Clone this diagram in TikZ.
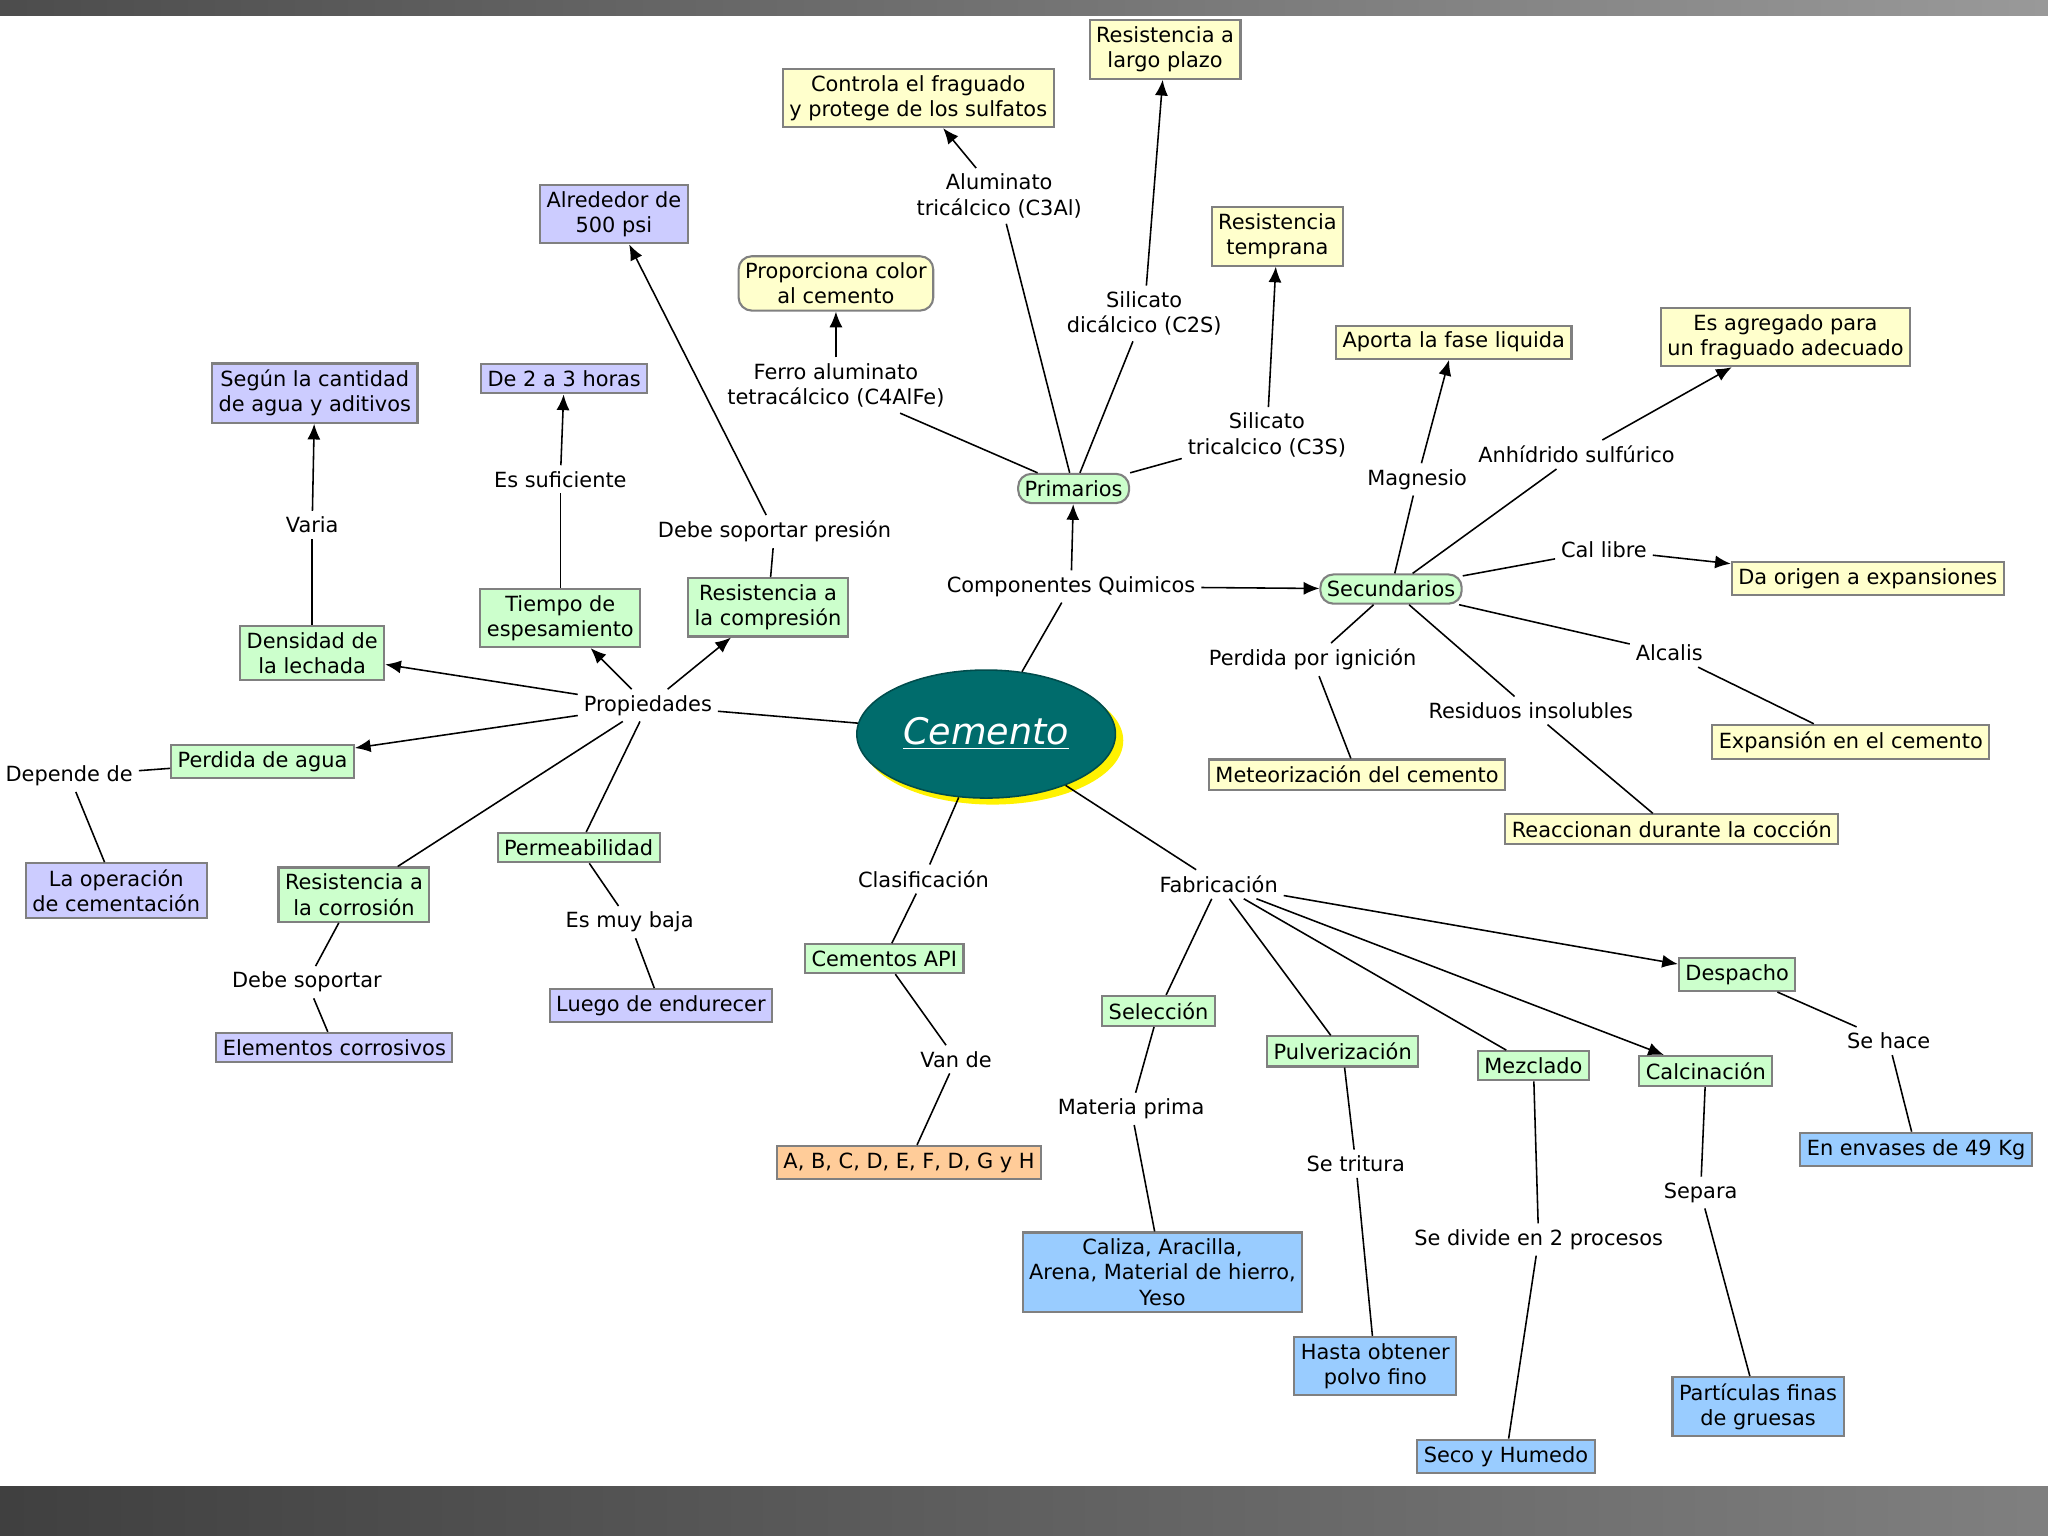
\documentclass[tikz,border=0pt]{standalone}
\usepackage{fontspec}
\setmainfont{DejaVu Sans}
\usetikzlibrary{arrows.meta,shapes.geometric}
\definecolor{gf}{HTML}{CCFFCC}\definecolor{pf}{HTML}{CCCCFF}\definecolor{yf}{HTML}{FFFFCC}
\definecolor{bf}{HTML}{99CCFF}\definecolor{of}{HTML}{FFCC99}\definecolor{bd}{HTML}{808080}
\begin{document}
\begin{tikzpicture}[x=0.5pt,y=-0.5pt,font=\fontsize{8}{9.6}\selectfont,
 box/.style={draw=bd,line width=0.8pt,align=center,inner sep=2.5pt},
 g/.style={box,fill=gf}, p/.style={box,fill=pf}, yb/.style={box,fill=yf},
 bl/.style={box,fill=bf}, o/.style={box,fill=of},
 gr/.style={box,fill=gf,rounded corners=5pt},
 yr/.style={box,fill=yf,rounded corners=5pt},
 l/.style={fill=white,align=center,inner sep=2pt},
 a/.style={-{Latex[length=6pt,width=5pt]}}, every path/.style={line width=0.6pt}]
\useasboundingbox (0,0) rectangle (1568,1176);
\shade[left color=black!70,right color=black!40] (0,0) rectangle (1568,12);
\shade[left color=black!75,right color=black!50] (0,1138) rectangle (1568,1176);
% center
\fill[yellow] (760,567) ellipse (100 and 49);
\node[ellipse,fill=teal!85!black,draw=teal!60!black,minimum width=99pt,minimum height=49pt,inner sep=0pt,text=white,font=\fontsize{14}{16}\selectfont\itshape] (cem) at (755,562) {\underline{Cemento}};
\node[l] (comp) at (820,449) {Componentes Quimicos};
\node[gr] (prim) at (822,374) {Primarios};
\node[gr] (sec) at (1065,451) {Secundarios};
\node[l] (ferro) at (640,295) {Ferro aluminato\\tetracálcico (C4AlFe)};
\node[yr] (pc) at (640,217) {Proporciona color\\al cemento};
\node[l] (alum) at (765,150) {Aluminato\\tricálcico (C3Al)};
\node[yb] (ctrl) at (703,75) {Controla el fraguado\\y protege de los sulfatos};
\node[l] (s2) at (876,240) {Silicato\\dicálcico (C2S)};
\node[yb] (rl) at (892,38) {Resistencia a\\largo plazo};
\node[l] (s3) at (970,333) {Silicato\\tricalcico (C3S)};
\node[yb] (rt) at (978,181) {Resistencia\\temprana};
\node[l] (mg) at (1085,367) {Magnesio};
\node[yb] (ap) at (1113,262) {Aporta la fase liquida};
\node[l] (an) at (1207,348) {Anhídrido sulfúrico};
\node[yb] (ea) at (1367,258) {Es agregado para\\un fraguado adecuado};
\node[l] (cl) at (1228,421) {Cal libre};
\node[yb] (dor) at (1430,443) {Da origen a expansiones};
\node[l] (alc) at (1278,500) {Alcalis};
\node[yb] (exp) at (1417,568) {Expansión en el cemento};
\node[l] (res) at (1172,544) {Residuos insolubles};
\node[yb] (rea) at (1280,635) {Reaccionan durante la cocción};
\node[l] (pi) at (1005,505) {Perdida por ignición};
\node[yb] (met) at (1039,593) {Meteorización del cemento};
\node[l] (prop) at (496,540) {Propiedades};
\node[g] (dens) at (239,500) {Densidad de\\la lechada};
\node[l] (var) at (239,402) {Varia};
\node[p] (seg) at (241,301) {Según la cantidad\\de agua y aditivos};
\node[g] (tie) at (429,473) {Tiempo de\\espesamiento};
\node[l] (esu) at (429,367) {Es suficiente};
\node[p] (d23) at (432,290) {De 2 a 3 horas};
\node[g] (rc) at (588,465) {Resistencia a\\la compresión};
\node[l] (dsp) at (593,407) {Debe soportar presión};
\node[p] (alr) at (470,164) {Alrededor de\\500 psi};
\node[g] (pa) at (201,583) {Perdida de agua};
\node[l] (dep) at (53,594) {Depende de};
\node[p] (lao) at (89,682) {La operación\\de cementación};
\node[g] (rco) at (271,685) {Resistencia a\\la corrosión};
\node[l] (dso) at (235,752) {Debe soportar};
\node[p] (ele) at (256,802) {Elementos corrosivos};
\node[g] (per) at (443,649) {Permeabilidad};
\node[l] (emb) at (482,706) {Es muy baja};
\node[p] (lue) at (506,770) {Luego de endurecer};
\node[l] (cla) at (707,673) {Clasificación};
\node[g] (api) at (677,734) {Cementos API};
\node[l] (van) at (732,811) {Van de};
\node[o] (abc) at (696,890) {A, B, C, D, E, F, D, G y H};
\node[l] (fab) at (933,677) {Fabricación};
\node[g] (sel) at (887,774) {Selección};
\node[l] (mp) at (866,849) {Materia prima};
\node[bl] (cal) at (890,974) {Caliza, Aracilla,\\Arena, Material de hierro,\\Yeso};
\node[g] (pul) at (1028,805) {Pulverización};
\node[l] (str) at (1038,891) {Se tritura};
\node[bl] (has) at (1053,1046) {Hasta obtener\\polvo fino};
\node[g] (mez) at (1174,816) {Mezclado};
\node[l] (sdi) at (1178,949) {Se divide en 2 procesos};
\node[bl] (sec2) at (1153,1115) {Seco y Humedo};
\node[g] (calc) at (1306,820) {Calcinación};
\node[l] (sep) at (1302,913) {Separa};
\node[bl] (par) at (1346,1077) {Partículas finas\\de gruesas};
\node[g] (des) at (1330,746) {Despacho};
\node[l] (seh) at (1446,797) {Se hace};
\node[bl] (env) at (1467,880) {En envases de 49 Kg};
% arrows
\foreach \s/\t in {comp/prim,comp/sec,ferro/pc,alum/ctrl,s2/rl,s3/rt,mg/ap,an/ea,cl/dor,prop/dens,prop/tie,prop/rc,prop/pa,var/seg,esu/d23,dsp/alr,fab/des,fab/calc}
 \draw[a] (\s) -- (\t);
\foreach \s/\t in {cem/comp,prim/ferro,prim/alum,prim/s2,prim/s3,sec/mg,sec/an,sec/cl,sec/alc,alc/exp,sec/res,res/rea,sec/pi,pi/met,cem/prop,dens/var,tie/esu,rc/dsp,pa/dep,dep/lao,prop/rco,rco/dso,dso/ele,prop/per,per/emb,emb/lue,cem/cla,cla/api,api/van,van/abc,cem/fab,fab/sel,sel/mp,mp/cal,fab/pul,pul/str,str/has,fab/mez,mez/sdi,sdi/sec2,calc/sep,sep/par,des/seh,seh/env}
 \draw (\s) -- (\t);
\end{tikzpicture}
\end{document}
